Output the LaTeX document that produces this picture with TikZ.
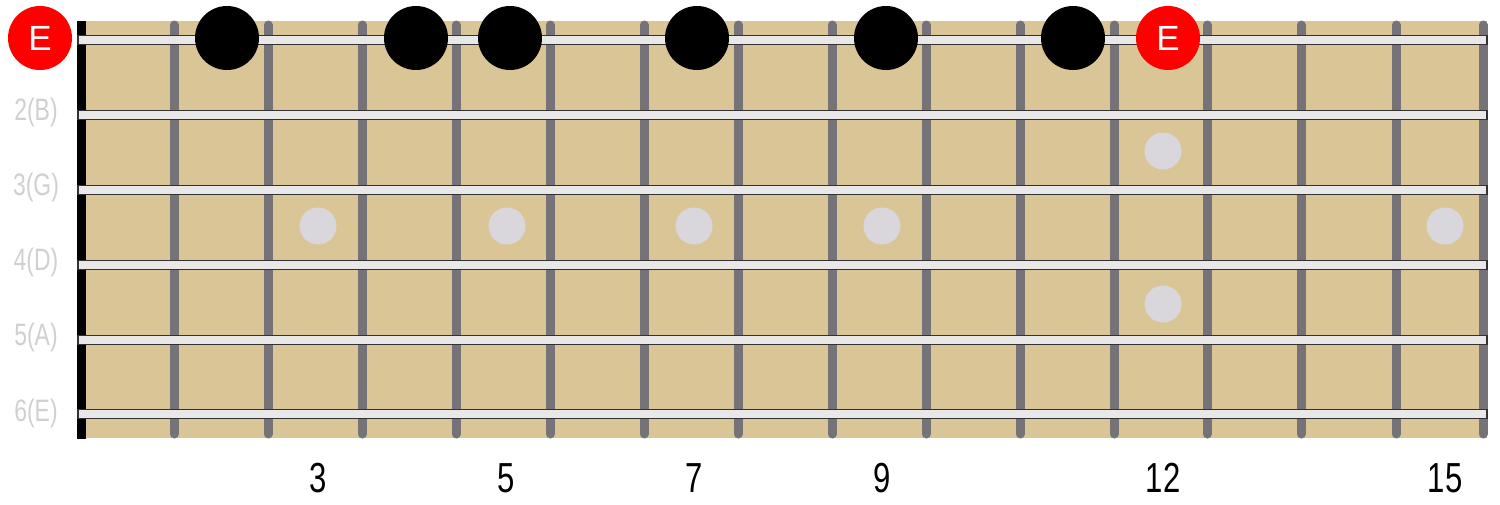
\documentclass[tikz,border=0pt]{standalone}
\usepackage{fontspec}
\setmainfont{Liberation Sans}
\newfontfamily\narrowfont[FakeStretch=0.74]{Liberation Sans}

\definecolor{boardtan}{RGB}{217,197,150}
\definecolor{fretgray}{RGB}{118,115,120}
\definecolor{stringfill}{RGB}{232,232,232}
\definecolor{stringedge}{RGB}{50,50,50}
\definecolor{inlaygray}{RGB}{217,215,219}
\definecolor{labelgray}{RGB}{208,208,208}

\tikzset{
  note/.style={circle,fill=black,minimum size=64pt,inner sep=0pt},
  root/.style={circle,fill=red,minimum size=64pt,inner sep=0pt,text=white,font=\fontsize{35}{35}\selectfont},
  inlay/.style={circle,fill=inlaygray,minimum size=37pt,inner sep=0pt},
  fretwire/.style={draw=fretgray,line width=9pt,line cap=round},
  guitarstring/.style={draw=stringedge,fill=stringfill,line width=1.8pt},
  strlabel/.style={text=labelgray,inner sep=0pt,font=\narrowfont\fontsize{31}{31}\selectfont},
  fretnum/.style={inner sep=0pt,font=\narrowfont\fontsize{42}{42}\selectfont},
}

\begin{document}
\begin{tikzpicture}[x=1pt,y=-1pt]
            \useasboundingbox (0,0) rectangle (1500,504);
            % fretboard and nut
            \fill[boardtan] (78,21) rectangle (1487,438);
            \fill[black] (77,21) rectangle (86,439);
            % frets
            \draw[fretwire] (174,25) -- (174,434);
            \draw[fretwire] (268,25) -- (268,434);
            \draw[fretwire] (362,25) -- (362,434);
            \draw[fretwire] (456,25) -- (456,434);
            \draw[fretwire] (550,25) -- (550,434);
            \draw[fretwire] (644,25) -- (644,434);
            \draw[fretwire] (738,25) -- (738,434);
            \draw[fretwire] (832,25) -- (832,434);
            \draw[fretwire] (926,25) -- (926,434);
            \draw[fretwire] (1020,25) -- (1020,434);
            \draw[fretwire] (1114,25) -- (1114,434);
            \draw[fretwire] (1207,25) -- (1207,434);
            \draw[fretwire] (1301,25) -- (1301,434);
            \draw[fretwire] (1396,25) -- (1396,434);
            \draw[fretwire] (1483,25) -- (1483,434);
            % inlays
            \node[inlay] (i3) at (318,226) {};
            \node[inlay] (i5) at (507,226) {};
            \node[inlay] (i7) at (694,226) {};
            \node[inlay] (i9) at (882,226) {};
            \node[inlay] (i12a) at (1163,151) {};
            \node[inlay] (i12b) at (1163,304) {};
            \node[inlay] (i15) at (1445,226) {};
            % strings
            \draw[guitarstring] (78,35.5) rectangle (1487,44.5);
            \draw[guitarstring] (78,110.5) rectangle (1487,119.5);
            \draw[guitarstring] (78,185.5) rectangle (1487,194.5);
            \draw[guitarstring] (78,260.5) rectangle (1487,269.5);
            \draw[guitarstring] (78,335.5) rectangle (1487,344.5);
            \draw[guitarstring] (78,409.5) rectangle (1487,418.5);
            % string names
            \node[strlabel] (sB) at (36,112) {2(B)};
            \node[strlabel] (sG) at (36,187) {3(G)};
            \node[strlabel] (sD) at (36,262) {4(D)};
            \node[strlabel] (sA) at (36,337) {5(A)};
            \node[strlabel] (sE) at (36,413) {6(E)};
            % fret numbers
            \node[fretnum] (f3) at (318,478) {3};
            \node[fretnum] (f5) at (506,478) {5};
            \node[fretnum] (f7) at (694,478) {7};
            \node[fretnum] (f9) at (882,478) {9};
            \node[fretnum] (f12) at (1163,478) {12};
            \node[fretnum] (f15) at (1445,478) {15};
            % notes on the first string
            \node[root] (open) at (40,38) {E};
            \node[note] (n2) at (227,38) {};
            \node[note] (n4) at (416,38) {};
            \node[note] (n5) at (510,38) {};
            \node[note] (n7) at (697,38) {};
            \node[note] (n9) at (886,38) {};
            \node[note] (n11) at (1073,38) {};
            \node[root] (n12) at (1168,38) {E};
\end{tikzpicture}
\end{document}
